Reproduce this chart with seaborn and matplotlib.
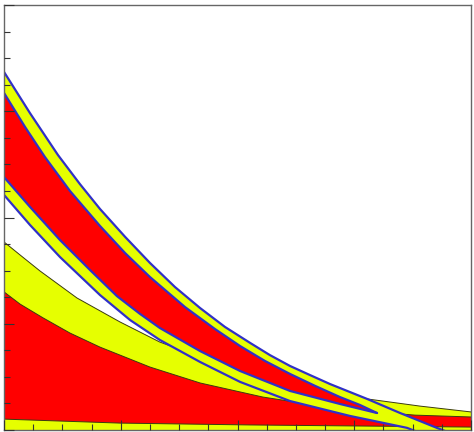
import numpy as np
import pandas as pd
import seaborn as sns
import matplotlib.pyplot as plt

sns.set_style("white")

# band 1 (blue outlined): outer edges and inner (red) edges
u1_x = [0, 0.89, 1.85, 2.60, 3.29, 4.15, 5.00, 5.86, 6.72, 7.57, 8.43, 9.11,
        9.80, 10.48, 11.17, 12.44, 13.57, 14.83, 15.28]
u1_y = [13.48, 11.93, 10.35, 9.26, 8.32, 7.27, 6.29, 5.38, 4.59, 3.88, 3.28, 2.82,
        2.41, 2.07, 1.73, 1.17, 0.64, 0.08, -0.11]
r1u_x = [0, 0.72, 1.40, 2.26, 3.29, 4.15, 5.00, 6.20, 7.23, 8.09, 8.94, 9.80,
         10.66, 11.51, 12.20, 12.78]
r1u_y = [12.69, 11.41, 10.28, 9.00, 7.68, 6.66, 5.76, 4.63, 3.80, 3.16, 2.60, 2.11,
         1.66, 1.24, 0.94, 0.64]
r1l_x = [0, 0.89, 1.92, 2.95, 3.87, 4.66, 5.34, 6.72, 8.09, 9.80, 11.51, 12.78]
r1l_y = [9.52, 8.40, 7.15, 6.02, 5.04, 4.37, 3.84, 2.97, 2.22, 1.47, 0.98, 0.64]
l1_x = [0, 0.89, 1.92, 3.29, 4.32, 5.34, 6.72, 8.09, 9.80, 11.85, 13.81, 14.25]
l1_y = [8.85, 7.72, 6.51, 5.08, 4.14, 3.39, 2.56, 1.81, 1.09, 0.53, 0.08, -0.11]

# band 2 (thin dark outline): yellow top, red top, red bottom
y2u_x = [0, 0.55, 1.23, 2.50, 3.97, 5.34, 8.43, 12.44, 14.25, 16.0]
y2u_y = [7.08, 6.59, 5.99, 4.97, 4.07, 3.31, 2.07, 1.17, 0.90, 0.68]
r2u_x = [0, 0.55, 1.34, 2.26, 3.29, 5.00, 6.72, 8.87, 11.51, 14.08, 16.0]
r2u_y = [5.20, 4.74, 4.22, 3.65, 3.12, 2.37, 1.77, 1.24, 0.79, 0.56, 0.49]
r2l_x = [0, 3.97, 8.43, 16.0]
r2l_y = [0.41, 0.26, 0.19, 0.11]

ticks = np.arange(0, 17)

YELLOW = "#e6ff00"
RED = "#ff0000"
BLUE = "#3030c8"
DARK = "#3a3a10"

fig = plt.figure(figsize=(4.74, 4.32), dpi=100)
ax = fig.add_axes([4 / 474, 2 / 432, 467 / 474, 425 / 432])

# band 2
ax.fill(np.r_[y2u_x, 16.5, -0.5], np.r_[y2u_y, -1, -1], color=YELLOW, lw=0, zorder=1)
ax.fill(np.r_[r2u_x, r2l_x[::-1]], np.r_[r2u_y, r2l_y[::-1]], color=RED, lw=0, zorder=2)
for xs, ys in [(y2u_x, y2u_y), (r2u_x, r2u_y), (r2l_x, r2l_y)]:
    sns.lineplot(x=xs, y=ys, ax=ax, color=DARK, lw=0.7, sort=False,
                 estimator=None, zorder=3)

# band 1
ax.fill(np.r_[u1_x, l1_x[::-1]], np.r_[u1_y, l1_y[::-1]], color=YELLOW, lw=0, zorder=4)
ax.fill(np.r_[r1u_x, r1l_x[::-1]], np.r_[r1u_y, r1l_y[::-1]], color=RED, lw=0, zorder=5)
for xs, ys in [(u1_x, u1_y), (l1_x, l1_y), (r1u_x, r1u_y), (r1l_x, r1l_y)]:
    sns.lineplot(x=xs, y=ys, ax=ax, color=BLUE, lw=1.6, sort=False,
                 estimator=None, zorder=6)

ax.set_xlim(0, 16)
ax.set_ylim(0, 16)
ax.set_xticks(ticks[::4])
ax.set_yticks(ticks[::4])
ax.set_xticks(ticks, minor=True)
ax.set_yticks(ticks, minor=True)
ax.set_xticklabels([])
ax.set_yticklabels([])
ax.tick_params(which="major", direction="in", length=7, width=0.8, color="#333333",
               bottom=True, left=True)
ax.tick_params(which="minor", direction="in", length=4, width=0.8, color="#333333",
               bottom=True, left=True)
ax.xaxis.set_zorder(11)
ax.yaxis.set_zorder(11)
for s in ax.spines.values():
    s.set_color("#666666")
    s.set_linewidth(1.0)
    s.set_zorder(10)
ax.set_xlabel("")
ax.set_ylabel("")

fig.savefig("out.png", dpi=100)
